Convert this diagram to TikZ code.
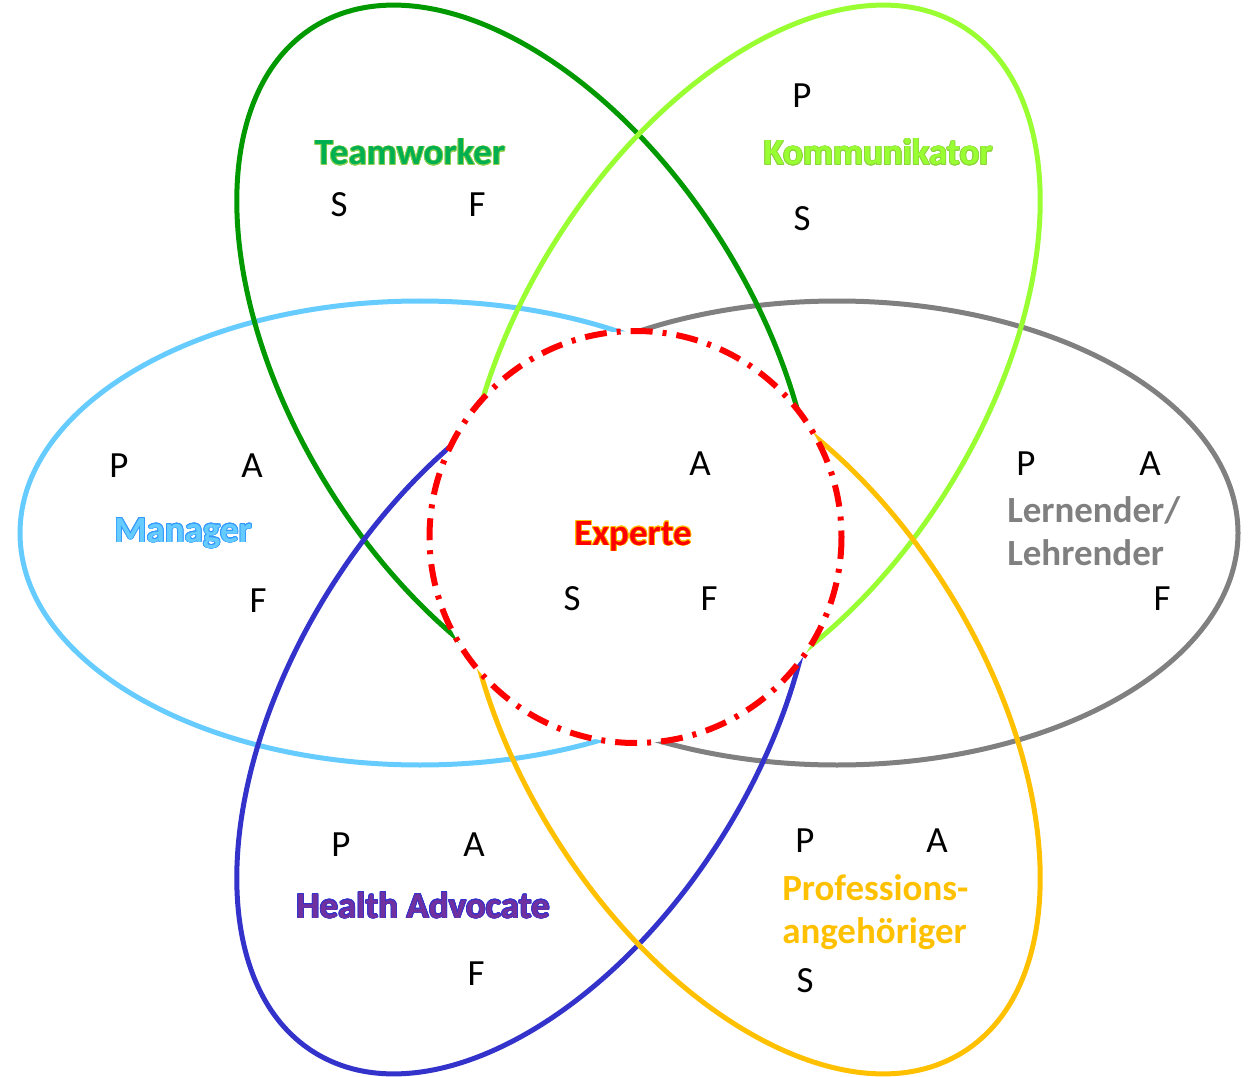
\documentclass[tikz,border=0pt]{standalone}
\usepackage{fontspec}
\setmainfont{Carlito}
\usepackage[copies]{contour}
\contourlength{0.6pt}

\definecolor{teamline}{HTML}{009900}
\definecolor{teamfill}{HTML}{00B050}
\definecolor{teamedge}{HTML}{92D050}
\definecolor{kommline}{HTML}{99FF33}
\definecolor{kommedge}{HTML}{8CD43C}
\definecolor{mgrline}{HTML}{66CCFF}
\definecolor{mgredge}{HTML}{3399FF}
\definecolor{lernline}{HTML}{808080}
\definecolor{haline}{HTML}{3333CC}
\definecolor{hafill}{HTML}{7030A0}
\definecolor{profline}{HTML}{FFC000}

\begin{document}
\begin{tikzpicture}[x=0.75pt, y=-0.75pt,
  rolering/.style={line width=3.75pt},
  letter/.style={font=\fontsize{27.7}{33}\selectfont, anchor=base, inner sep=0pt},
  role/.style={font=\fontsize{27.7}{32.25}\selectfont\bfseries, anchor=base, inner sep=0pt}]

\useasboundingbox (0,0) rectangle (1254,1077);

% the six roles
\draw[rolering, mgrline] (420,533) ellipse [x radius=400, y radius=232];
\draw[rolering, lernline] (837,533) ellipse [x radius=401, y radius=232];
\draw[rolering, teamline, shift={(526,366)}, rotate=-58] (0,0) ellipse [x radius=400, y radius=232];
\draw[rolering, kommline, shift={(751,366)}, rotate=58] (0,0) ellipse [x radius=400, y radius=232];
\draw[rolering, haline, shift={(526,713)}, rotate=58] (0,0) ellipse [x radius=400, y radius=232];
\draw[rolering, profline, shift={(751,713)}, rotate=-58] (0,0) ellipse [x radius=400, y radius=232];

% Experte in the middle
\draw[red, line width=4.5pt, fill=white, dash pattern=on 16.5pt off 7.5pt on 3pt off 7.5pt]
  (635.5,537) circle [radius=206];

\node[role, text=teamfill] (teamworker) at (410,165) {\contour{teamedge}{Teamworker}};
\node[letter] (team-s) at (339,217) {S};
\node[letter] (team-f) at (477,217) {F};

\node[role, text=kommline] (kommunikator) at (878,165) {\contour{kommedge}{Kommunikator}};
\node[letter] (komm-p) at (802,108) {P};
\node[letter] (komm-s) at (802,231) {S};

\node[role, text=mgrline] (manager) at (183,542) {\contour{mgredge}{Manager}};
\node[letter] (mgr-p) at (119,477) {P};
\node[letter] (mgr-a) at (252,477) {A};
\node[letter] (mgr-f) at (258,612) {F};

\node[role, text=red] (experte) at (633,545) {\contour{profline}{Experte}};
\node[letter] (exp-a) at (700,475) {A};
\node[letter] (exp-s) at (572,610) {S};
\node[letter] (exp-f) at (709,610) {F};

% base of the last line
\node[role, text=lernline, align=left, anchor=base west] (lernender) at (1007,565) {Lernender/\\Lehrender};
\node[letter] (lern-p) at (1026,475) {P};
\node[letter] (lern-a) at (1150,475) {A};
\node[letter] (lern-f) at (1162,610) {F};

\node[role, text=hafill] (advocate) at (423,918) {\contour{haline}{Health Advocate}};
\node[letter] (ha-p) at (341,856) {P};
\node[letter] (ha-a) at (474,856) {A};
\node[letter] (ha-f) at (476,985) {F};

\node[role, text=profline, align=left, anchor=base west] (profession) at (782,943) {Professions-\\angehöriger};
\node[letter] (prof-p) at (805,852) {P};
\node[letter] (prof-a) at (937,852) {A};
\node[letter] (prof-s) at (805,992) {S};

\end{tikzpicture}
\end{document}
